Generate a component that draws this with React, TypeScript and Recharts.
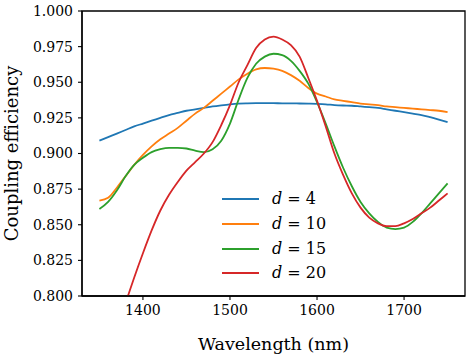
import React from 'react';
import { LineChart, Line, XAxis, YAxis, ReferenceArea } from 'recharts';

const wavelengths = [
  1350, 1360, 1370, 1380, 1390, 1400, 1410, 1420, 1430, 1440, 1450, 1460, 1470, 1480,
  1490, 1500, 1510, 1520, 1530, 1540, 1550, 1560, 1570, 1580, 1590, 1600, 1610, 1620,
  1630, 1640, 1650, 1660, 1670, 1680, 1690, 1700, 1710, 1720, 1730, 1740, 1750,
];

const d4 = [
  0.909, 0.9115, 0.914, 0.9165, 0.919, 0.921, 0.923, 0.925, 0.927, 0.9285, 0.93, 0.931,
  0.932, 0.933, 0.9338, 0.9345, 0.935, 0.9352, 0.9353, 0.9353, 0.9353, 0.9352, 0.9352, 0.9351,
  0.935, 0.9348, 0.9345, 0.934, 0.9337, 0.9335, 0.933, 0.9325, 0.932, 0.931, 0.930,
  0.929, 0.928, 0.927, 0.9255, 0.9238, 0.922,
];

const d10 = [
  0.867, 0.869, 0.876, 0.884, 0.892, 0.899, 0.905, 0.91, 0.914, 0.918, 0.923, 0.928,
  0.932, 0.937, 0.942, 0.947, 0.952, 0.956, 0.959, 0.96, 0.9595, 0.958, 0.955, 0.951,
  0.946, 0.942, 0.94, 0.938, 0.937, 0.936, 0.935, 0.9345, 0.934, 0.933, 0.9325, 0.932,
  0.9315, 0.931, 0.9305, 0.93, 0.929,
];

const d15 = [
  0.861, 0.866, 0.874, 0.884, 0.892, 0.897, 0.901, 0.903, 0.904, 0.904, 0.9035, 0.902,
  0.901, 0.903, 0.909, 0.921, 0.938, 0.953, 0.963, 0.968, 0.97, 0.969, 0.965, 0.958,
  0.949, 0.936, 0.921, 0.905, 0.89, 0.877, 0.866, 0.858, 0.852, 0.848, 0.847, 0.848,
  0.852, 0.858, 0.865, 0.872, 0.879,
];

const d20 = [
  0.745, 0.762, 0.778, 0.795, 0.813, 0.83, 0.846, 0.86, 0.871, 0.88, 0.888, 0.894,
  0.9, 0.908, 0.92, 0.934, 0.95, 0.962, 0.974, 0.98, 0.982, 0.98, 0.976, 0.968,
  0.953, 0.937, 0.919, 0.9, 0.885, 0.872, 0.862, 0.855, 0.851, 0.849, 0.849, 0.851,
  0.854, 0.858, 0.862, 0.867, 0.872,
];

const xTicks = [1400, 1500, 1600, 1700];
const yTicks = [0.8, 0.825, 0.85, 0.875, 0.9, 0.925, 0.95, 0.975, 1.0];

const series = [
  { key: 'd4', label: '4', color: '#1f77b4', values: d4 },
  { key: 'd10', label: '10', color: '#ff7f0e', values: d10 },
  { key: 'd15', label: '15', color: '#2ca02c', values: d15 },
  { key: 'd20', label: '20', color: '#d62728', values: d20 },
];

const data = wavelengths.map((w, i) => {
  const row: Record<string, number> = { w };
  series.forEach((s) => {
    row[s.key] = s.values[i];
  });
  return row;
});

const font = '"DejaVu Serif", serif';
const tickStyle = { fill: '#000', fontSize: 14, fontFamily: font };

// legend sits inside the plot, so it is drawn outside recharts' layout
function LegendBox() {
  return (
    <div style={{ position: 'absolute', left: 222, top: 187, fontFamily: font, fontSize: 16, color: '#000' }}>
      {series.map((s) => (
        <div key={s.key} style={{ display: 'flex', alignItems: 'center', height: 24.7 }}>
          <div style={{ width: 37, height: 0, borderTop: `2px solid ${s.color}`, marginRight: 13 }} />
          <span style={{ lineHeight: '16px' }}>
            <i>d</i>&nbsp;=&nbsp;{s.label}
          </span>
        </div>
      ))}
    </div>
  );
}

export default function App() {
  return (
    <div style={{ position: 'absolute', left: 0, top: 0, width: 474, height: 356, background: '#fff' }}>
      <LineChart width={474} height={356} data={data} margin={{ top: 11, right: 9, bottom: 0, left: 0 }}>
        <XAxis
          dataKey="w"
          type="number"
          domain={[1330, 1770]}
          ticks={xTicks}
          tick={tickStyle}
          tickSize={4}
          tickMargin={5}
          height={60}
          axisLine={{ stroke: '#000', strokeWidth: 1.3 }}
          tickLine={{ stroke: '#000', strokeWidth: 1.1 }}
          label={{ value: 'Wavelength (nm)', position: 'insideBottom', offset: 6, fill: '#000', fontSize: 17.5, fontFamily: font }}
        />
        <YAxis
          type="number"
          domain={[0.8, 1.0]}
          allowDataOverflow
          ticks={yTicks}
          tickFormatter={(v: number) => v.toFixed(3)}
          tick={tickStyle}
          tickSize={4}
          tickMargin={5}
          width={82}
          axisLine={{ stroke: '#000', strokeWidth: 1.3 }}
          tickLine={{ stroke: '#000', strokeWidth: 1.1 }}
          label={{
            value: 'Coupling efficiency',
            angle: -90,
            position: 'insideLeft',
            offset: 4,
            dx: 8,
            style: { textAnchor: 'middle' },
            fill: '#000',
            fontSize: 18,
            fontFamily: font,
          }}
        />
        <ReferenceArea x1={1330} x2={1770} y1={0.8} y2={1.0} fill="none" stroke="#000" strokeWidth={1.3} />
        {series.map((s) => (
          <Line
            key={s.key}
            dataKey={s.key}
            stroke={s.color}
            strokeWidth={1.8}
            type="monotone"
            dot={false}
            activeDot={false}
            isAnimationActive={false}
          />
        ))}
      </LineChart>
      <LegendBox />
    </div>
  );
}
